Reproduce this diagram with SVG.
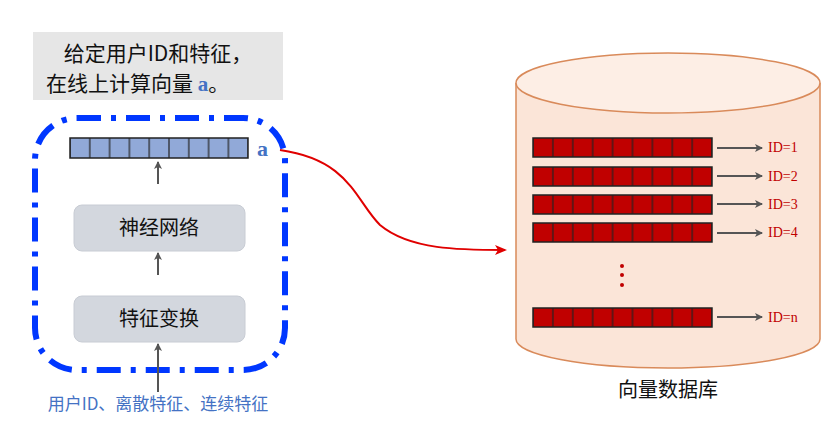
<svg xmlns="http://www.w3.org/2000/svg" width="825" height="423" viewBox="0 0 825 423">
<defs>
<style>
.cjk{font-family:"Noto Sans CJK SC","Noto Sans",sans-serif}
.blue{fill:#91a9d8;stroke:#222;stroke-width:1.2}
.red{fill:#c00000;stroke:#222;stroke-width:1.2}
.box{fill:#d3d7de;stroke:#c8ccd4}
.ga{stroke:#555;stroke-width:2;marker-end:url(#g)}
.lbl{font-family:"Liberation Serif",serif;font-size:14px;fill:#c00000}
</style>
<marker id="g" markerWidth="8" markerHeight="8" refX="7" refY="4" orient="auto" markerUnits="userSpaceOnUse"><path d="M0,0 L8,4 L0,8 L2,4 z" fill="#555"/></marker>
<marker id="r" markerWidth="12" markerHeight="10" refX="10" refY="5" orient="auto" markerUnits="userSpaceOnUse"><path d="M0,0 L12,5 L0,10 L3,5 z" fill="#e00000"/></marker>
<pattern id="cellsB" x="70" y="0" width="19.8" height="423" patternUnits="userSpaceOnUse"><rect x="0" y="0" width="19.8" height="423" fill="#91a9d8" stroke="#222" stroke-width="1.2"/></pattern>
<pattern id="cellsR" x="533" y="0" width="19.9" height="423" patternUnits="userSpaceOnUse"><rect x="0" y="0" width="19.9" height="423" fill="#c00000" stroke="#222" stroke-width="1.2"/></pattern>
</defs>
<rect width="825" height="423" fill="#fff"/>
<g id="caption">
<rect x="33" y="32" width="250" height="68" fill="#e6e6e6"/>
<text x="158" y="61" text-anchor="middle" class="cjk" font-size="21" fill="#111">给定用户ID和特征，</text>
<text x="46" y="91" class="cjk" font-size="21" fill="#111">在线上计算向量 <tspan font-family="Liberation Serif,serif" font-weight="bold" fill="#4472c4">a</tspan>。</text>
</g>
<g id="model-frame">
<rect x="35" y="118" width="250" height="252" rx="42" fill="none" stroke="#0037ff" stroke-width="6" stroke-dasharray="24,10,5,10"/>
</g>
<g id="vector-a">
<rect x="70" y="138" width="178" height="20" fill="url(#cellsB)" stroke="#222" stroke-width="1.5"/>
<text x="257" y="156" font-family="Liberation Serif,serif" font-weight="bold" font-size="22" fill="#4472c4">a</text>
</g>
<g id="nn">
<rect x="74" y="205" width="171" height="46" rx="8" class="box"/>
<text x="159" y="235" text-anchor="middle" class="cjk" font-size="20" fill="#111">神经网络</text>
</g>
<g id="ft">
<rect x="74" y="296" width="171" height="46" rx="8" class="box"/>
<text x="159" y="326" text-anchor="middle" class="cjk" font-size="20" fill="#111">特征变换</text>
</g>
<g id="input">
<text x="158" y="410" text-anchor="middle" class="cjk" font-size="17" fill="#4472c4">用户ID、离散特征、连续特征</text>
</g>
<g id="db">
<path d="M516,83 L516,339 A152,29 0 0 0 820,339 L820,83" fill="#fbe5d8" stroke="#d98a5a" stroke-width="1.5"/>
<ellipse cx="668" cy="83" rx="152" ry="30" fill="#fdeee5" stroke="#d98a5a" stroke-width="1.5"/>
<rect x="533" y="138" width="179" height="19" fill="url(#cellsR)" stroke="#222" stroke-width="1.5"/>
<rect x="533" y="167" width="179" height="19" fill="url(#cellsR)" stroke="#222" stroke-width="1.5"/>
<rect x="533" y="195" width="179" height="19" fill="url(#cellsR)" stroke="#222" stroke-width="1.5"/>
<rect x="533" y="223" width="179" height="19" fill="url(#cellsR)" stroke="#222" stroke-width="1.5"/>
<rect x="533" y="308" width="179" height="19" fill="url(#cellsR)" stroke="#222" stroke-width="1.5"/>
<circle cx="622" cy="266" r="2" fill="#c00000"/>
<circle cx="622" cy="275" r="2" fill="#c00000"/>
<circle cx="622" cy="285" r="2" fill="#c00000"/>
<text x="768" y="152" class="lbl">ID=1</text>
<text x="768" y="181" class="lbl">ID=2</text>
<text x="768" y="209" class="lbl">ID=3</text>
<text x="768" y="237" class="lbl">ID=4</text>
<text x="768" y="322" class="lbl">ID=n</text>
<text x="668" y="397" text-anchor="middle" class="cjk" font-size="20" fill="#111">向量数据库</text>
</g>
<g id="connectors">
<line x1="158" y1="184" x2="158" y2="162" class="ga"/>
<line x1="158" y1="275" x2="158" y2="253" class="ga"/>
<line x1="158" y1="392" x2="158" y2="344" class="ga"/>
<line x1="717" y1="148" x2="762" y2="148" class="ga"/>
<line x1="717" y1="176" x2="762" y2="176" class="ga"/>
<line x1="717" y1="204" x2="762" y2="204" class="ga"/>
<line x1="717" y1="233" x2="762" y2="233" class="ga"/>
<line x1="717" y1="317" x2="762" y2="317" class="ga"/>
<path d="M280,150 C350,160 355,200 380,225 C410,250 460,250 505,250" fill="none" stroke="#e00000" stroke-width="2" marker-end="url(#r)"/>
</g>
</svg>
